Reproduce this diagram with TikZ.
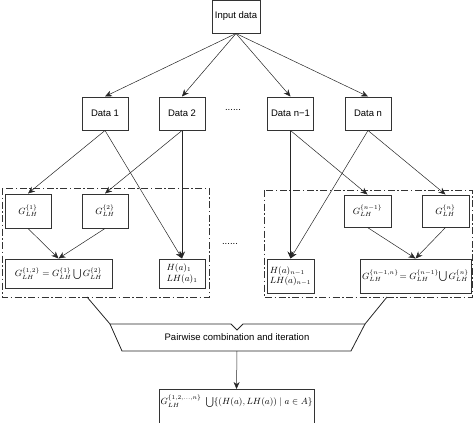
\documentclass[tikz,border=0pt]{standalone}
\usepackage[no-math]{fontspec}
\setmainfont{Liberation Sans}
\usetikzlibrary{arrows.meta}

\begin{document}
\begin{tikzpicture}[x=1pt,y=-1pt,
		box/.style={draw=black!80, line width=1pt, inner sep=2pt, font=\fontsize{9.5}{11}\selectfont},
		mbox/.style={box, inner sep=1pt, font=\fontsize{8.6}{10.5}\selectfont},
		link/.style={-{Stealth[length=7pt,width=6pt]}, line width=0.5pt, black!85},
		group/.style={draw=black!80, line width=1pt, dash pattern=on 7pt off 2.5pt on 1.5pt off 2.5pt}]
	\useasboundingbox (0,0) rectangle (474,423);
	\node[box, minimum width=48, minimum height=33] (input) at (236,16.5) {Input data};
	\foreach \x/\name/\txt in {105/d1/Data 1, 182/d2/Data 2, 290.5/dn1/Data n−1, 368/dn/Data n} {
		\node[box, minimum width=46, minimum height=33] (\name) at (\x,113.5) {\txt};
		\draw[link] (input.south) -- (\name.north);
	}
	\node[font=\fontsize{9.5}{11}\selectfont] (dotsa) at (233,110) {......};
	\node[font=\fontsize{9.5}{11}\selectfont] (dotsb) at (230,244) {......};
	% dashed groups
	\draw[group] (2,188) rectangle (209,297);
	\draw[group] (264,190) rectangle (472,297);
	\node[mbox, minimum width=46, minimum height=34] (g1) at (28,211) {$G_{LH}^{\{1\}}$};
	\node[mbox, minimum width=46, minimum height=34] (g2) at (105,211) {$G_{LH}^{\{2\}}$};
	\node[mbox, minimum width=47, minimum height=32] (gn1) at (367.5,211) {$G_{LH}^{\{n-1\}}$};
	\node[mbox, minimum width=47, minimum height=32] (gn) at (445.5,211) {$G_{LH}^{\{n\}}$};
	\node[mbox, minimum width=107, minimum height=29] (g12) at (58.5,273.5) {$G_{LH}^{\{1,2\}} = G_{LH}^{\{1\}} \bigcup G_{LH}^{\{2\}}$};
	\node[mbox, minimum width=46, minimum height=29, align=left] (h1) at (182,273.5) {$H(a)_1$\\$LH(a)_1$};
	\node[mbox, minimum width=47, minimum height=34, align=left] (hn1) at (290.5,276) {$H(a)_{n-1}$\\$LH(a)_{n-1}$};
	\node[mbox, minimum width=111, minimum height=34] (gn1n) at (415.5,276) {$G_{LH}^{\{n-1,n\}}\! = G_{LH}^{\{n-1\}}\! \bigcup G_{LH}^{\{n\}}$};
	\foreach \a/\b in {d1/g1, d1/h1, d2/g2, d2/h1, dn1/hn1, dn1/gn1, dn/gn, dn/hn1, g1/g12, g2/g12, gn1/gn1n, gn/gn1n}
		\draw[link] (\a.south) -- (\b.north);
	% merge
	\coordinate (lgrp) at (87,297);
	\coordinate (rgrp) at (387,297);
	\coordinate (pairout) at (237,351);
	\node[font=\fontsize{9.5}{11}\selectfont] (pair) at (237,337.5) {Pairwise combination and iteration};
	\draw[line width=0.8pt, black!85, line join=miter] (lgrp) -- (110,324) -- (231,324) -- (237,330) -- (243,324) -- (365,324) -- (rgrp);
	\draw[line width=0.8pt, black!85] (110,324) -- (122,351) -- (351,351) -- (365,324);
	\node[mbox, minimum width=155, anchor=north, text height=14pt, text depth=22pt] (final) at (236.5,389) {$G_{LH}^{\{1,2,\ldots,n\}}\ \bigcup\{(H(a),LH(a))\mid a\in A\}$};
	\draw[link] (pairout) -- (final.north);
\end{tikzpicture}
\end{document}
